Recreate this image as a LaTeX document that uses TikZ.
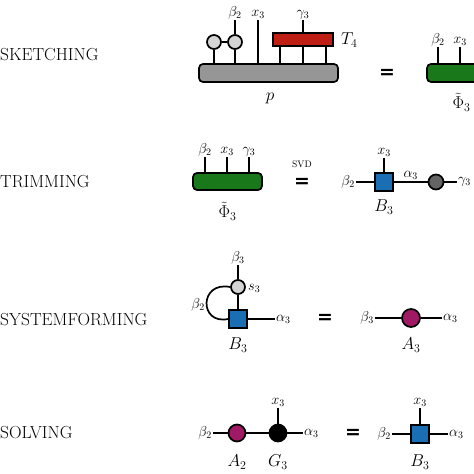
\documentclass[tikz,border=0pt]{standalone}
\usepackage{fontspec}
\newfontfamily\eqfont{DejaVu Sans}
\definecolor{pgray}{RGB}{150,150,150}
\definecolor{lgray}{RGB}{212,212,212}
\definecolor{dgray}{RGB}{100,100,100}
\definecolor{tred}{RGB}{190,30,20}
\definecolor{tgreen}{RGB}{25,120,25}
\definecolor{tblue}{RGB}{25,110,180}
\definecolor{tpurple}{RGB}{160,25,100}
\tikzset{
  leg/.style={line width=1.7bp},
  barbox/.style={draw, line width=1.7bp, rounded corners=4bp, inner sep=0pt},
  dot/.style={circle, draw, line width=1.7bp, inner sep=0pt},
  sq/.style={rectangle, draw, line width=1.7bp, inner sep=0pt, fill=tblue, minimum size=18bp},
  lbl/.style={font=\fontsize{14}{14}\selectfont, inner sep=1pt},
  big/.style={font=\fontsize{17}{17}\selectfont, inner sep=1pt},
  title/.style={font=\fontsize{17.5}{17.5}\selectfont, anchor=west, inner sep=0pt},
  eqsign/.style={font=\eqfont\bfseries\fontsize{19}{19}\selectfont, inner sep=0pt},
}
\begin{document}
\begin{tikzpicture}[x=1bp, y=-1bp]
\useasboundingbox (0,0) rectangle (474,474);
\clip (0,0) rectangle (474,474);

% ---------- titles
\node[title] (t1) at (0,55) {SKETCHING};
\node[title] (t2) at (0,182) {TRIMMING};
\node[title] (t3) at (0,320) {SYSTEMFORMING};
\node[title] (t4) at (0,433) {SOLVING};

% ---------- row 1: sketching
\node[barbox, fill=pgray, minimum width=139bp, minimum height=18bp] (p) at (268.5,73) {};
\node[dot, fill=lgray, minimum size=14bp] (c1) at (214,42) {};
\node[dot, fill=lgray, minimum size=14bp] (c2) at (235,42) {};
\draw[leg] (c1) -- (c2);
\draw[leg] (c1.south) -- (c1.south |- p.north);
\draw[leg] (c2.south) -- (c2.south |- p.north);
\coordinate (b2t) at (235,20);
\draw[leg] (c2.north) -- (b2t);
\node[lbl, anchor=south] (lb2) at (b2t) {$\beta_2$};
\coordinate (x3t) at (258,20);
\coordinate (x3b) at (258,64);
\draw[leg] (x3b) -- (x3t);
\node[lbl, anchor=south] (lx3) at (x3t) {$x_3$};
\node[barbox, rounded corners=0pt, fill=tred, minimum width=60bp, minimum height=13bp] (T) at (303,39.5) {};
\foreach \xx in {280,303,326} {
  \draw[leg] (\xx,46) -- (\xx,64);
}
\coordinate (g3t) at (303,20);
\draw[leg] (T.north) -- (g3t);
\node[lbl, anchor=south] (lg3) at (g3t) {$\gamma_3$};
\node[big, anchor=west] (lT) at (340,40) {$T_4$};
\node[big] (lp) at (270,98) {$p$};

\node[eqsign] (eq1) at (387,74) {=};

\node[barbox, fill=tgreen, minimum width=69bp, minimum height=18bp] (phi1) at (461.5,73) {};
\foreach \xx/\nm/\tx in {438/a/\beta_2,460/b/x_3} {
  \coordinate (pt\nm) at (\xx,47);
  \draw[leg] (\xx,64) -- (pt\nm);
  \node[lbl, anchor=south] at (pt\nm) {$\tx$};
}
\node[big] (lphi1) at (461.5,102) {$\tilde{\Phi}_3$};

% ---------- row 2: trimming
\node[barbox, fill=tgreen, minimum width=69bp, minimum height=17bp] (phi2) at (227.5,181.5) {};
\foreach \xx/\nm/\tx in {205/a/\beta_2,227/b/x_3,249/c/\gamma_3} {
  \coordinate (qt\nm) at (\xx,157);
  \draw[leg] (\xx,173) -- (qt\nm);
  \node[lbl, anchor=south] at (qt\nm) {$\tx$};
}
\node[big] (lphi2) at (227.5,211) {$\tilde{\Phi}_3$};
\node[font=\fontsize{9.5}{9.5}\selectfont, inner sep=0pt] (svd) at (302,164) {SVD};
\node[eqsign] (eq2) at (302,183) {=};
\node[sq] (B2) at (384,182) {};
\coordinate (B2l) at (356,182);
\draw[leg] (B2l) -- (B2);
\node[lbl, anchor=east] (lB2b) at (B2l) {$\beta_2$};
\coordinate (B2t) at (384,158);
\draw[leg] (B2) -- (B2t);
\node[lbl, anchor=south] (lB2x) at (B2t) {$x_3$};
\node[dot, fill=dgray, minimum size=15bp] (S) at (436,182) {};
\draw[leg] (B2) -- node[lbl, above, inner sep=2pt] (la3) {$\alpha_3$} (S);
\coordinate (Sr) at (457,182);
\draw[leg] (S) -- (Sr);
\node[lbl, anchor=west] (lSg) at (Sr) {$\gamma_3$};
\node[big] (lB2) at (384,207) {$B_3$};

% ---------- row 3: systemforming
\node[dot, fill=lgray, minimum size=14bp] (s3) at (238,287) {};
\node[sq] (B3) at (238,319) {};
\draw[leg] (s3) -- (B3);
\coordinate (s3t) at (238,265);
\draw[leg] (s3) -- (s3t);
\node[lbl, anchor=south] (ls3b) at (s3t) {$\beta_3$};
\node[lbl, anchor=west] (ls3) at (247,288) {$s_3$};
\draw[leg] (s3.west) .. controls (199,281) and (199,325) .. (B3.west);
\node[lbl, anchor=east] (lloop) at (206,305) {$\beta_2$};
\coordinate (B3r) at (275,319);
\draw[leg] (B3) -- (B3r);
\node[lbl, anchor=west] (lB3a) at (B3r) {$\alpha_3$};
\node[big] (lB3) at (238,345) {$B_3$};
\node[eqsign] (eq3) at (325,319) {=};
\node[dot, fill=tpurple, minimum size=18bp] (A3) at (411,318) {};
\coordinate (A3l) at (375,318);
\coordinate (A3r) at (442,318);
\draw[leg] (A3l) -- (A3) -- (A3r);
\node[lbl, anchor=east] (lA3b) at (A3l) {$\beta_3$};
\node[lbl, anchor=west] (lA3a) at (A3r) {$\alpha_3$};
\node[big] (lA3) at (411,345) {$A_3$};

% ---------- row 4: solving
\node[dot, fill=tpurple, minimum size=17bp] (A2) at (237,433) {};
\node[dot, fill=black, minimum size=17bp] (G3) at (278,433) {};
\coordinate (A2l) at (213,433);
\draw[leg] (A2l) -- (A2) -- (G3);
\node[lbl, anchor=east] (lA2b) at (A2l) {$\beta_2$};
\coordinate (G3t) at (278,408);
\draw[leg] (G3) -- (G3t);
\node[lbl, anchor=south] (lG3x) at (G3t) {$x_3$};
\coordinate (G3r) at (303,433);
\draw[leg] (G3) -- (G3r);
\node[lbl, anchor=west] (lG3a) at (G3r) {$\alpha_3$};
\node[big] (lA2) at (237,462) {$A_2$};
\node[big] (lG3) at (278,462) {$G_3$};
\node[eqsign] (eq4) at (353,434) {=};
\node[sq] (B4) at (420,434) {};
\coordinate (B4l) at (392,434);
\coordinate (B4r) at (448,434);
\coordinate (B4t) at (420,408);
\draw[leg] (B4l) -- (B4) -- (B4r);
\draw[leg] (B4) -- (B4t);
\node[lbl, anchor=east] (lB4b) at (B4l) {$\beta_2$};
\node[lbl, anchor=west] (lB4a) at (B4r) {$\alpha_3$};
\node[lbl, anchor=south] (lB4x) at (B4t) {$x_3$};
\node[big] (lB4) at (420,462) {$B_3$};
\end{tikzpicture}
\end{document}
